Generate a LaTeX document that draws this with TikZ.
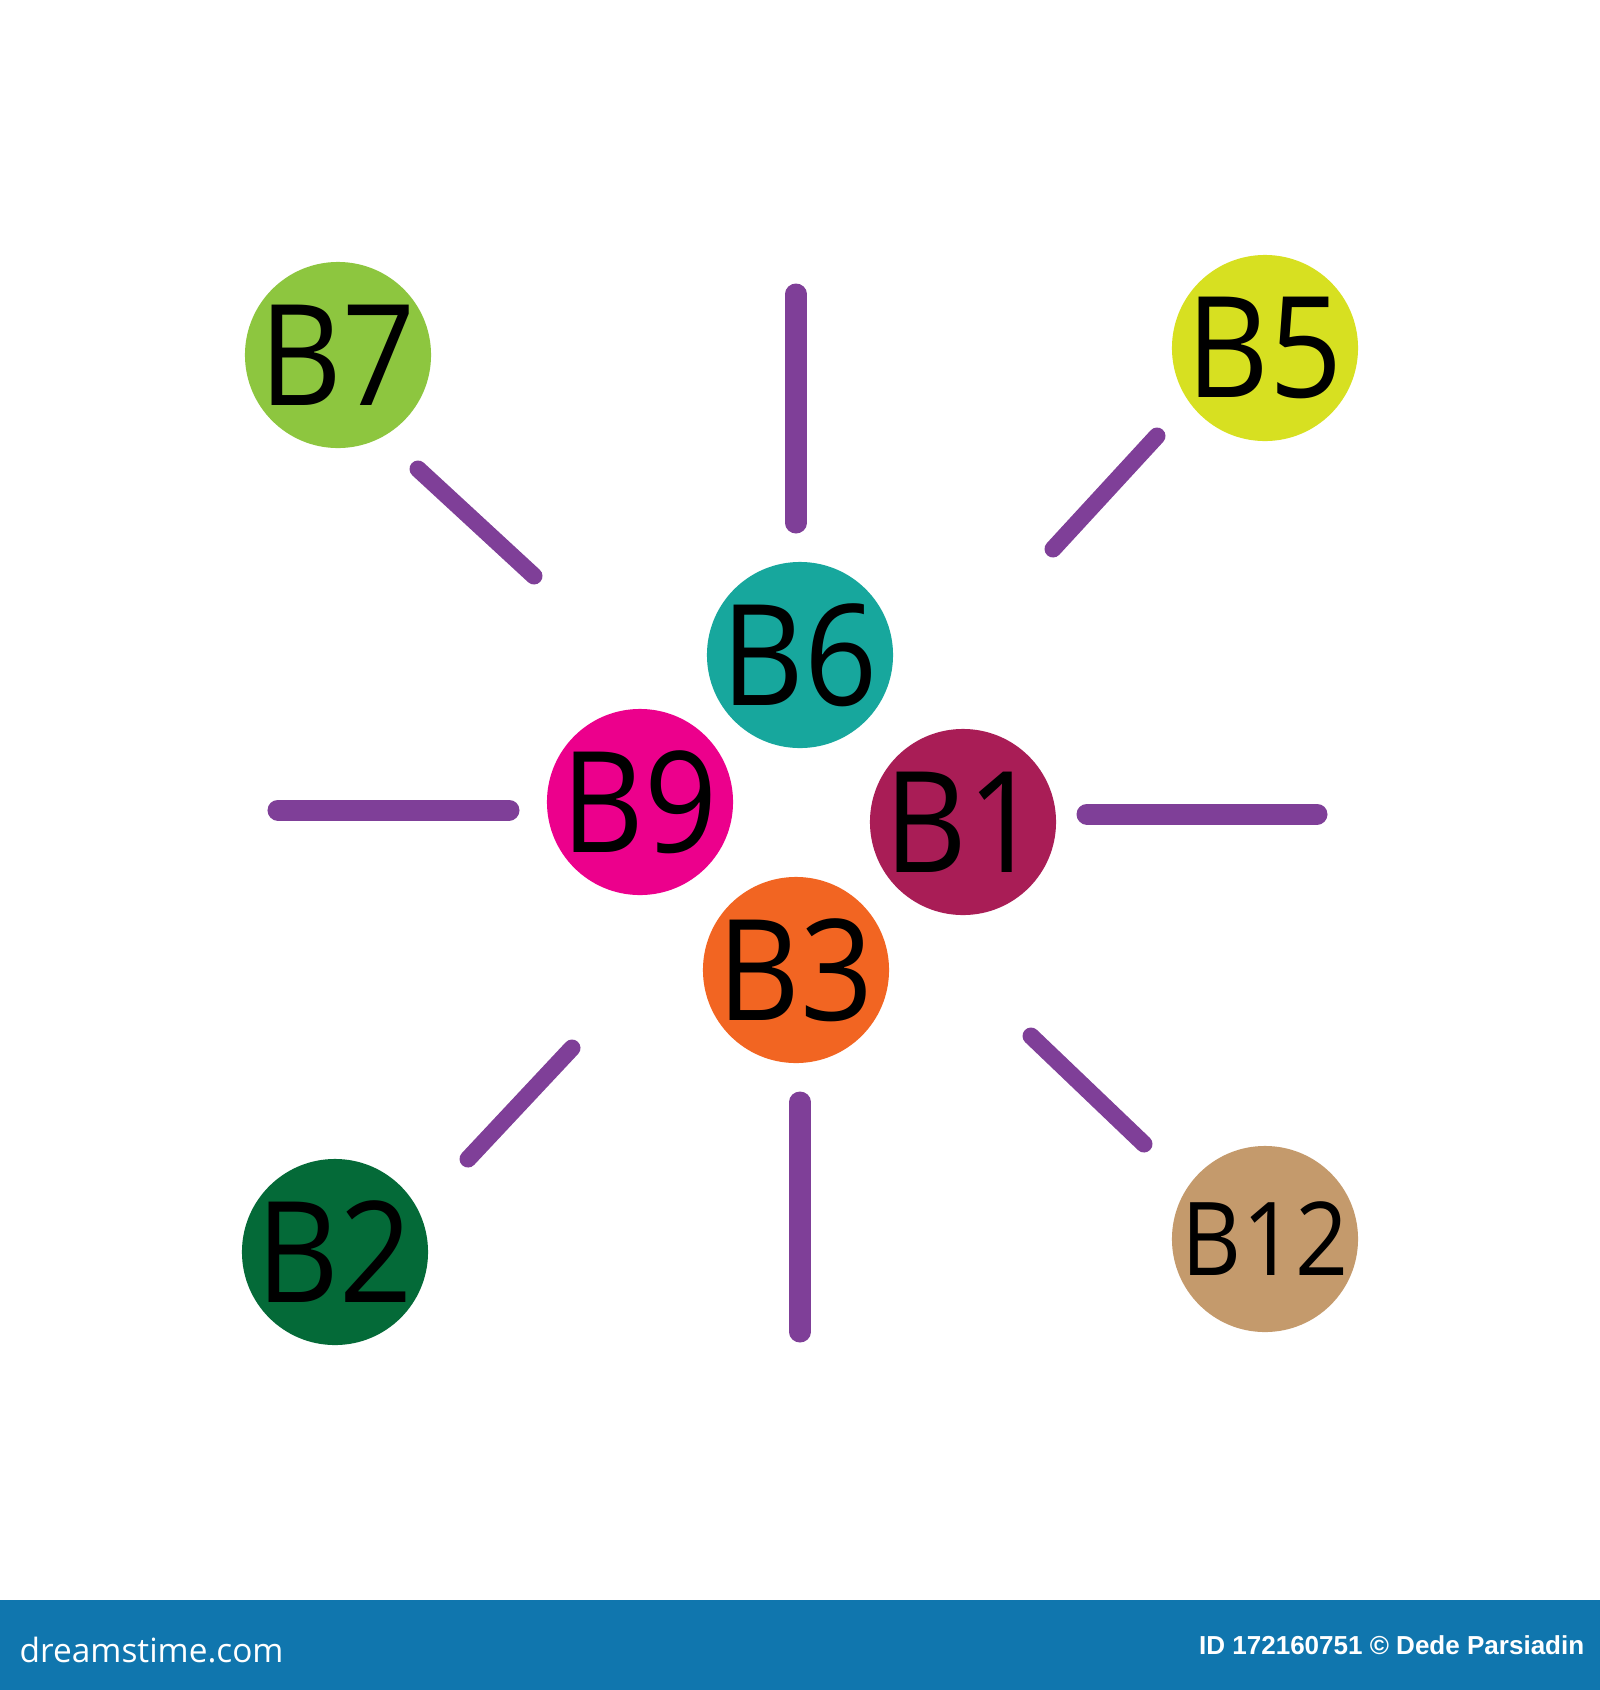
\documentclass[tikz,border=0pt]{standalone}
\usepackage{fontspec}
\setmainfont{Open Sans}
\newfontfamily\labelfont[FakeStretch=0.91]{Open Sans}
\newfontfamily\creditfont{Liberation Sans}
\usetikzlibrary{positioning}

\definecolor{spokepurple}{HTML}{7F3F98}
\definecolor{bsevengreen}{HTML}{8DC63F}
\definecolor{bfivelime}{HTML}{D7E021}
\definecolor{bsixteal}{HTML}{17A79D}
\definecolor{bninepink}{HTML}{EC008C}
\definecolor{bonecrimson}{HTML}{A91D56}
\definecolor{bthreeorange}{HTML}{F26522}
\definecolor{btwogreen}{HTML}{046A38}
\definecolor{btwelvetan}{HTML}{C49A6C}
\definecolor{barblue}{HTML}{1076AE}

\begin{document}
\begin{tikzpicture}[x=0.01cm, y=-0.01cm,
    bnode/.style={circle, inner sep=-12pt, minimum size=1.86cm, text=black,
        font=\labelfont\fontsize{40}{40}\selectfont},
    smallbnode/.style={bnode, font=\labelfont\fontsize{29}{29}\selectfont},
    spokeline/.style={draw=spokepurple, line width=0.21cm, line cap=round},
    diagline/.style={spokeline, line width=0.17cm}]

    \useasboundingbox (0,0) rectangle (1600,1690);

    \node[bnode, fill=bsevengreen] (B7) at (338,355) {B7};
    \node[bnode, fill=bfivelime] (B5) at (1265,348) {B5};
    \node[bnode, fill=bsixteal] (B6) at (800,655) {B6};
    \node[bnode, fill=bninepink] (B9) at (640,802) {B9};
    \node[bnode, fill=bonecrimson] (B1) at (963,822) {B1};
    \node[bnode, fill=bthreeorange] (B3) at (796,970) {B3};
    \node[bnode, fill=btwogreen] (B2) at (335,1252) {B2};
    \node[smallbnode, fill=btwelvetan] (B12) at (1265,1239) {B12};

    \coordinate (top a) at (796,294);
    \coordinate (top b) at (796,523);
    \coordinate (bottom a) at (800,1102);
    \coordinate (bottom b) at (800,1332);
    \coordinate (left a) at (278,810);
    \coordinate (left b) at (509,810);
    \coordinate (right a) at (1087,814);
    \coordinate (right b) at (1317,814);
    \coordinate (seven a) at (418,469);
    \coordinate (seven b) at (534,576);
    \coordinate (five a) at (1157,436);
    \coordinate (five b) at (1053,549);
    \coordinate (two a) at (572,1048);
    \coordinate (two b) at (468,1159);
    \coordinate (twelve a) at (1031,1036);
    \coordinate (twelve b) at (1144,1144);

    \draw[spokeline] (top a) -- (top b);
    \draw[spokeline] (bottom a) -- (bottom b);
    \draw[spokeline] (left a) -- (left b);
    \draw[spokeline] (right a) -- (right b);
    \draw[diagline] (seven a) -- (seven b);
    \draw[diagline] (five a) -- (five b);
    \draw[diagline] (two a) -- (two b);
    \draw[diagline] (twelve a) -- (twelve b);

    \fill[barblue] (0,1600) rectangle (1600,1690);
    \node[anchor=base west, inner sep=0pt, text=white,
        font=\fontsize{9.5}{10}\selectfont] (logo) at (19,1662) {dreamstime.com};
    \node[anchor=base east, inner sep=0pt, text=white,
        font=\creditfont\bfseries\fontsize{7.4}{8}\selectfont] (credit) at (1585,1654)
        {ID 172160751 © Dede Parsiadin};
\end{tikzpicture}
\end{document}
